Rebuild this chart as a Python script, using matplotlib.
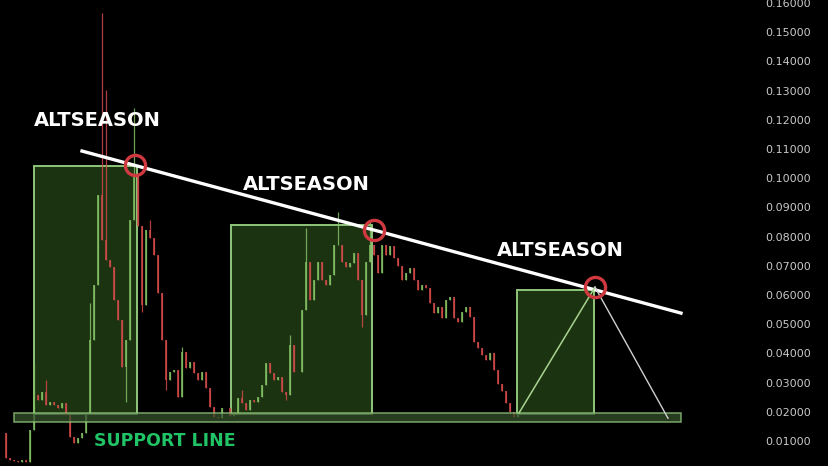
import matplotlib
matplotlib.use("Agg")
import matplotlib.pyplot as plt
from matplotlib.patches import Rectangle

# price path: candle k opens at prices[k] and closes at prices[k+1]
prices = [
    0.0127, 0.0042, 0.0035, 0.0031, 0.0028, 0.0035, 0.0028, 0.0138, 0.0258, 0.0240,
    0.0268, 0.0223, 0.0234, 0.0223, 0.0213, 0.0230, 0.0189, 0.0114, 0.0093, 0.0110,
    0.0127, 0.0196, 0.0446, 0.0634, 0.0942, 0.0788, 0.0720, 0.0696, 0.0583, 0.0514,
    0.0353, 0.0446, 0.0857, 0.1011, 0.0836, 0.0566, 0.0822, 0.0795, 0.0737, 0.0607,
    0.0446, 0.0309, 0.0336, 0.0343, 0.0251, 0.0405, 0.0350, 0.0370, 0.0333, 0.0309,
    0.0336, 0.0281, 0.0216, 0.0182, 0.0178, 0.0213, 0.0213, 0.0185, 0.0192, 0.0247,
    0.0230, 0.0206, 0.0240, 0.0234, 0.0251, 0.0292, 0.0367, 0.0333, 0.0309, 0.0319,
    0.0268, 0.0257, 0.0429, 0.0336, 0.0336, 0.0549, 0.0713, 0.0583, 0.0651, 0.0713,
    0.0651, 0.0634, 0.0668, 0.0771, 0.0771, 0.0713, 0.0696, 0.0710, 0.0744, 0.0651,
    0.0532, 0.0713, 0.0771, 0.0737, 0.0675, 0.0771, 0.0737, 0.0768, 0.0727, 0.0699,
    0.0651, 0.0675, 0.0692, 0.0651, 0.0617, 0.0634, 0.0624, 0.0573, 0.0538, 0.0559,
    0.0521, 0.0583, 0.0593, 0.0521, 0.0507, 0.0542, 0.0559, 0.0525, 0.0439, 0.0418,
    0.0394, 0.0377, 0.0401, 0.0343, 0.0295, 0.0271, 0.0230, 0.0199, 0.0182, 0.0196,
]

# notable wick extremes (candle index -> price)
wick_highs = {0: 0.0127, 7: 0.0367, 10: 0.0309, 21: 0.0573, 24: 0.1566, 25: 0.1302,
              32: 0.1240, 36: 0.0857, 44: 0.0422, 59: 0.0275, 71: 0.0463, 75: 0.0829,
              83: 0.0884, 91: 0.0857}
wick_lows = {30: 0.0233, 34: 0.0542, 40: 0.0275, 70: 0.0240, 89: 0.0490}

# annotation boxes: (start candle, end candle, top price)
boxes = [(7.0, 32.75, 0.1042), (56.25, 91.5, 0.0840), (127.75, 147.0, 0.0617)]
box_bottom = 0.0192
support = (2.0, 168.75, 0.0166, 0.0196)
trend_x = [19.0, 168.75]
trend_y = [0.1093, 0.0538]
circle_x = [32.25, 92.0, 147.25]
circle_y = [0.1045, 0.0822, 0.0627]
tri_left_x, tri_left_y = [128.25, 147.25], [0.0196, 0.0627]
tri_right_x, tri_right_y = [147.25, 165.5], [0.0627, 0.0178]
label_x = [22.75, 75.0, 138.5]
label_y = [0.1196, 0.0977, 0.0751]
yticks = [0.01, 0.02, 0.03, 0.04, 0.05, 0.06, 0.07, 0.08, 0.09, 0.10,
          0.11, 0.12, 0.13, 0.14, 0.15, 0.16]

fig = plt.figure(figsize=(8.29, 4.66), dpi=100, facecolor="black")
ax = fig.add_axes([0, 0, 750 / 829, 1])
ax.set_facecolor("black")

# boxes and support band
for x0, x1, top in boxes:
    ax.add_patch(Rectangle((x0, box_bottom), x1 - x0, top - box_bottom,
                           facecolor="#1c3312", edgecolor="#8fc47a", lw=1.4, zorder=1))
sx0, sx1, sb, st = support
ax.add_patch(Rectangle((sx0, sb), sx1 - sx0, st - sb, facecolor="#34502c",
                       edgecolor="#8fc47a", lw=1.2, alpha=0.75, zorder=4))

# candles
green, red = "#82bf62", "#cf4a48"
for i in range(len(prices) - 1):
    o, c = prices[i], prices[i + 1]
    col = green if c >= o else red
    hi = max(o, c, wick_highs.get(i, 0))
    lo = min(o, c, wick_lows.get(i, 1))
    ax.vlines(i, lo, hi, color=col, lw=0.9, alpha=0.85, zorder=2)
    ax.bar(i, abs(c - o), bottom=min(o, c), width=0.5, color=col, alpha=0.8,
           linewidth=0, zorder=3)

# trend line, triangle, circles
ax.plot(trend_x, trend_y, color="white", lw=2.4, zorder=5)
ax.plot(tri_left_x, tri_left_y, color="#a9d48f", lw=1.1, zorder=5)
ax.plot(tri_right_x, tri_right_y, color="#d0d0d0", lw=1.0, zorder=5)
ax.plot(circle_x, circle_y, "o", ms=14.5, mfc="none", mec="#d0393f", mew=2.4, zorder=6)

for lx, ly in zip(label_x, label_y):
    ax.text(lx, ly, "ALTSEASON", color="white", fontsize=14, fontweight="bold",
            ha="center", va="center", zorder=7)
ax.text(39.75, 0.0100, "SUPPORT LINE", color="#20c466", fontsize=12.5,
        fontweight="bold", ha="center", va="center", zorder=7)

ax.set_xlim(-1.5, 186)
ax.set_ylim(0.00144, 0.16103)
ax.set_xticks([])
ax.yaxis.tick_right()
ax.set_yticks(yticks)
ax.set_yticklabels([f"{v:.5f}" for v in yticks])
ax.tick_params(axis="y", length=0, pad=11, labelsize=8, labelcolor="#c8c8c8")
for s in ax.spines.values():
    s.set_visible(False)

fig.savefig("out.png", dpi=100, facecolor="black")
